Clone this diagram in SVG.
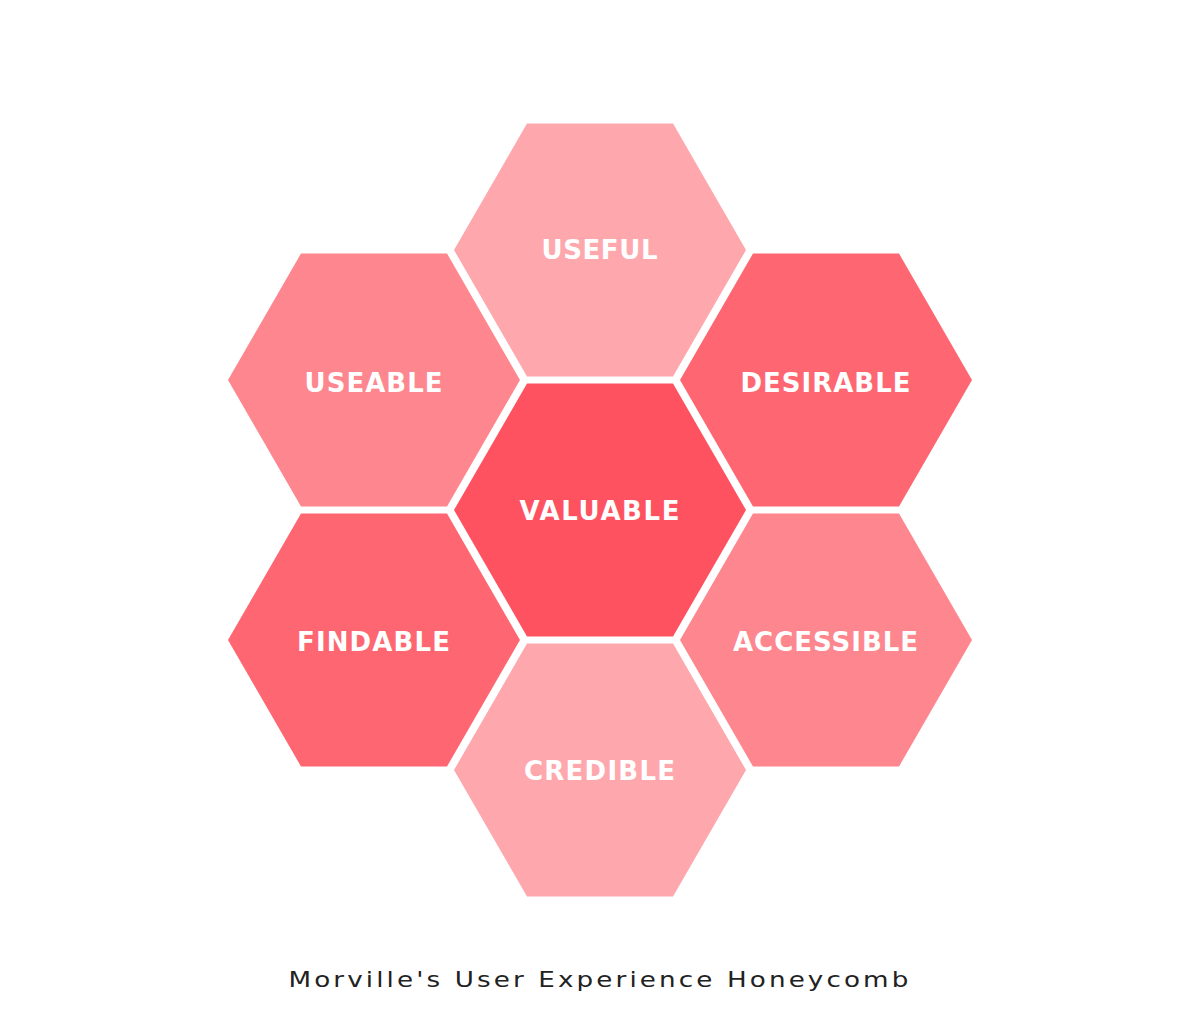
<svg xmlns="http://www.w3.org/2000/svg" width="1200" height="1021" viewBox="0 0 1200 1021">
<defs>
<style>
.lbl{font-family:"DejaVu Sans","Liberation Sans",sans-serif;font-weight:bold;font-size:26px;fill:#ffffff;text-anchor:middle;letter-spacing:1px}
.title{font-family:"DejaVu Sans","Liberation Sans",sans-serif;font-size:21px;fill:#222222;text-anchor:middle;letter-spacing:2.5px}
.c1{fill:#FEA8AE}.c2{fill:#FE868E}.c3{fill:#FE6672}.c4{fill:#FE5261}
</style>
<polygon id="hex" points="-146,0 -73,-126.5 73,-126.5 146,0 73,126.5 -73,126.5"/>
</defs>
<rect width="1200" height="1021" fill="#ffffff"/>
<g id="useful"><use href="#hex" x="600" y="250" class="c1"/><text class="lbl" x="600" y="259" textLength="117">USEFUL</text></g>
<g id="useable"><use href="#hex" x="374" y="380" class="c2"/><text class="lbl" x="374" y="392" textLength="139">USEABLE</text></g>
<g id="desirable"><use href="#hex" x="826" y="380" class="c3"/><text class="lbl" x="826" y="392" textLength="171">DESIRABLE</text></g>
<g id="valuable"><use href="#hex" x="600" y="510" class="c4"/><text class="lbl" x="600" y="520" textLength="161">VALUABLE</text></g>
<g id="findable"><use href="#hex" x="374" y="640" class="c3"/><text class="lbl" x="374" y="651" textLength="154">FINDABLE</text></g>
<g id="accessible"><use href="#hex" x="826" y="640" class="c2"/><text class="lbl" x="826" y="651" textLength="186">ACCESSIBLE</text></g>
<g id="credible"><use href="#hex" x="600" y="770" class="c1"/><text class="lbl" x="600" y="780" textLength="152">CREDIBLE</text></g>
<g id="connectors"></g>
<text class="title" x="600" y="987" textLength="623" lengthAdjust="spacingAndGlyphs">Morville's User Experience Honeycomb</text>
</svg>
